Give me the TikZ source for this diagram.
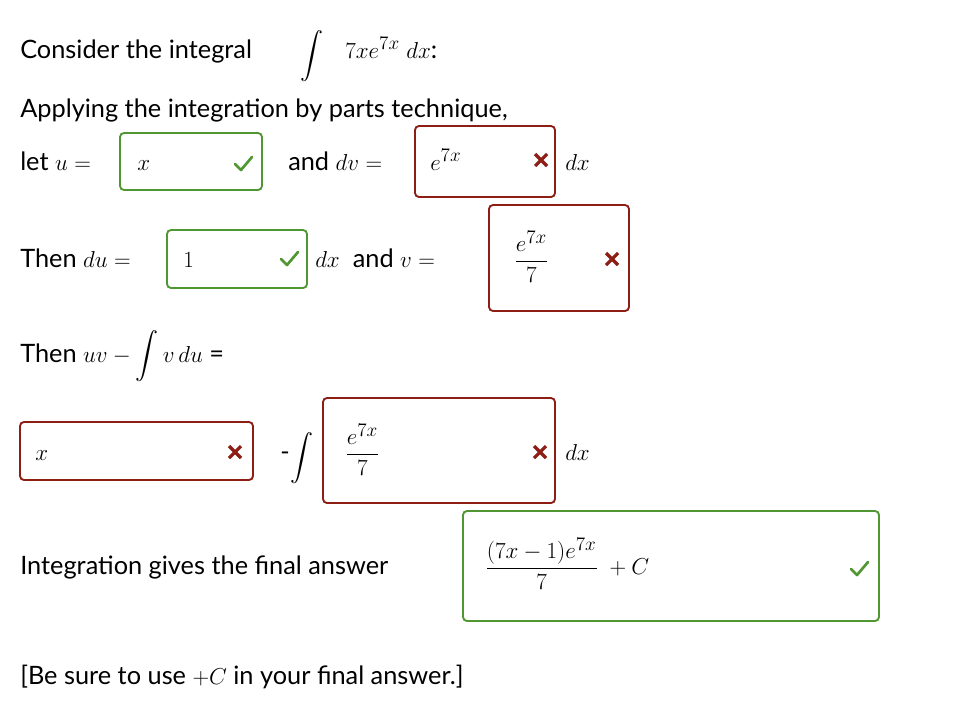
\documentclass[tikz,border=0pt]{standalone}
\usepackage{amsmath}
\usepackage{fontspec}
\setmainfont{Lato}
\definecolor{okg}{RGB}{80,150,50}
\definecolor{badr}{RGB}{140,30,20}
\tikzset{
 txt/.style={anchor=base west,inner sep=0pt,font=\fontsize{19}{22}\selectfont},
 okbox/.style={draw=okg,line width=1.4pt,rounded corners=3pt},
 badbox/.style={draw=badr,line width=1.4pt,rounded corners=3pt},
 tick/.style={draw=okg,line width=2pt,line cap=round,line join=round},
 cross/.style={draw=badr,line width=2.4pt}
}
\newcommand{\mytick}[2]{\draw[tick] (#1-9,#2) -- (#1-3,#2+6) -- (#1+8,#2-7);}
\newcommand{\mycross}[2]{\draw[cross] (#1-6,#2-6) -- (#1+6,#2+6) (#1-6,#2+6) -- (#1+6,#2-6);}
\begin{document}
\begin{tikzpicture}[x=0.75pt,y=-0.75pt]
\useasboundingbox (0,0) rectangle (956,726);
\node[txt] (t1) at (20,58) {Consider the integral};
\node[txt] (i1) at (300,62) {$\displaystyle\int$};
\node[txt] (t1b) at (345,58) {$7xe^{7x}\ dx$:};
\node[txt] (t2) at (20,117) {Applying the integration by parts technique,};
\node[txt] (t3) at (20,170) {let $u=$};
\draw[okbox] (120,133) rectangle (262,190);
\node[txt] (x1) at (137,170) {$x$};
\mytick{244}{164}
\node[txt] (t4) at (288,170) {and $dv=$};
\draw[badbox] (415,126) rectangle (555,197);
\node[txt] (e1) at (430,170) {$e^{7x}$};
\mycross{541}{160}
\node[txt] (dx1) at (565,170) {$dx$};
\node[txt] (t5) at (20,267) {Then $du=$};
\draw[okbox] (167,230) rectangle (307,288);
\node[txt] (one) at (183,267) {$1$};
\mytick{290}{259}
\node[txt] (t6) at (315,267) {$dx$\ \ and $v=$};
\draw[badbox] (489,205) rectangle (629,311);
\node[txt] (f1) at (514,267) {$\dfrac{e^{7x}}{7}$};
\mycross{612}{259}
\node[txt] (t7) at (20,362) {Then $uv-\displaystyle\int v\,du$ =};
\draw[badbox] (20,422) rectangle (253,480);
\node[txt] (x2) at (35,460) {$x$};
\mycross{235}{452}
\node[txt] (m) at (280,460) {-};
\node[txt] (i2) at (290,464) {$\displaystyle\int$};
\draw[badbox] (323,398) rectangle (555,503);
\node[txt] (f2) at (345,460) {$\dfrac{e^{7x}}{7}$};
\mycross{540}{452}
\node[txt] (dx2) at (565,460) {$dx$};
\node[txt] (t8) at (20,574) {Integration gives the final answer};
\draw[okbox] (463,511) rectangle (879,621);
\node[txt] (f3) at (485,574) {$\dfrac{(7x-1)e^{7x}}{7}\ +C$};
\mytick{860}{569}
\node[txt] (t9) at (20,684) {[Be sure to use $+C$ in your final answer.]};
\end{tikzpicture}
\end{document}
